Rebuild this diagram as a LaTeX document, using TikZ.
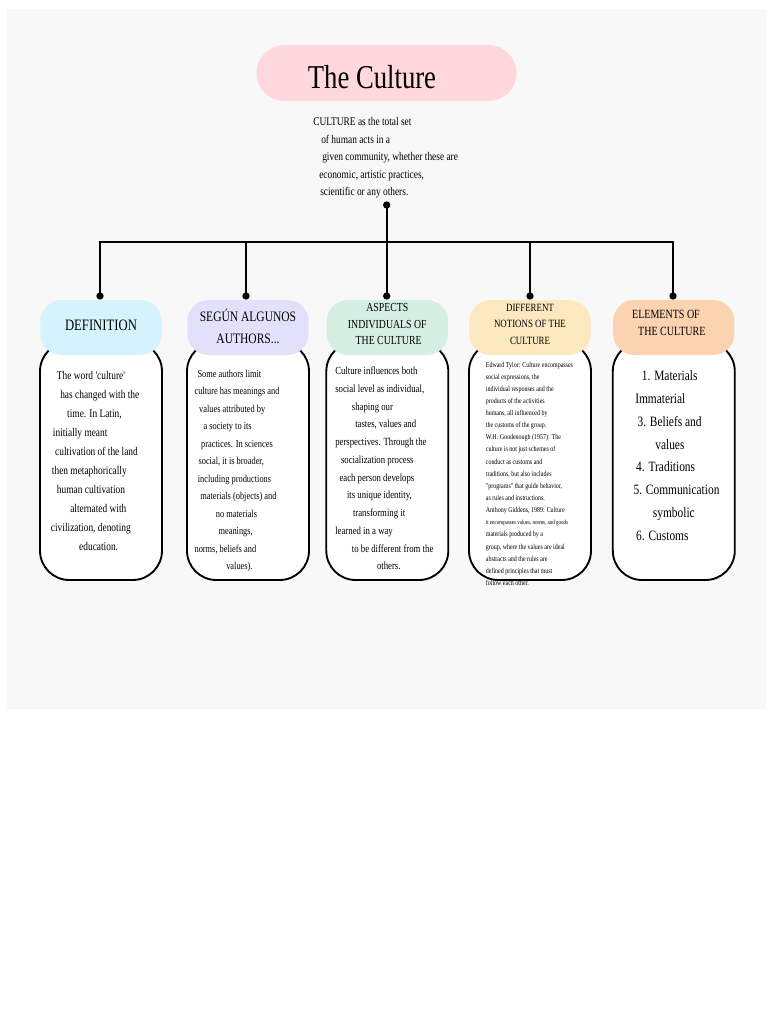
\documentclass[tikz,border=0pt]{standalone}
\usepackage{fontspec}
\setmainfont{Liberation Serif}[FakeStretch=0.8, Ligatures=TeXOff]
\definecolor{panelgray}{HTML}{F8F8F8}
\definecolor{titlepink}{HTML}{FED8DD}
\definecolor{hblue}{HTML}{D4F3FD}
\definecolor{hlav}{HTML}{E1E1FB}
\definecolor{hmint}{HTML}{D6EFE3}
\definecolor{hyel}{HTML}{FDE9C0}
\definecolor{hpeach}{HTML}{FCD3B1}
\tikzset{
  bodybox/.style={draw=black, line width=1.4pt, fill=white, rounded corners=22pt,
    minimum width=91.5pt, minimum height=178.5pt, inner sep=0pt},
  headbox/.style={draw=none, rounded corners=16pt, minimum width=91pt,
    minimum height=41.25pt, inner sep=0pt, align=center},
  bodytext/.style={anchor=north west, align=left, inner sep=0pt},
  link/.style={line width=1.5pt, draw=black},
  dotnode/.style={circle, fill=black, inner sep=0pt, minimum size=5.5pt},
}
\begin{document}
\begin{tikzpicture}[x=0.75pt, y=-0.75pt]
\useasboundingbox (0,0) rectangle (768,1024);
\fill[panelgray] (7,9) rectangle (766,709);

% title
\node[fill=titlepink, rounded corners=21pt, minimum width=195pt, minimum height=42pt, inner sep=0pt]
  (titlebox) at (386.5,73) {};
\node[inner sep=0pt, font=\fontsize{25}{30}\selectfont] (title) at (372,77) {The Culture};

% description
\node[bodytext, font=\fontsize{8.8}{13.1}\selectfont] (desc) at (313,117.5)
  {CULTURE as the total set\\
   \hspace*{6pt}of human acts in a\\
   \hspace*{6.75pt}given community, whether these are\\
   \hspace*{4.5pt}economic, artistic practices,\\
   \hspace*{5.25pt}scientific or any others.};

% body boxes
\node[bodybox] (b1) at (101,461) {};
\node[bodybox] (b2) at (248,461) {};
\node[bodybox] (b3) at (387.3,461) {};
\node[bodybox] (b4) at (530,461) {};
\node[bodybox] (b5) at (673.8,461) {};

% headers
\node[headbox, fill=hblue, font=\fontsize{11.9}{14}\selectfont] (h1) at (101,327.5) {DEFINITION\rule[-3pt]{0pt}{0pt}};
\node[headbox, fill=hlav, font=\fontsize{10.8}{16.3}\selectfont] (h2) at (248,327.5)
  {SEGÚN ALGUNOS\\AUTHORS...\rule[-2pt]{0pt}{0pt}};
\node[headbox, fill=hmint, font=\fontsize{9.2}{12.2}\selectfont] (h3) at (387.3,327.5)
  {ASPECTS\\INDIVIDUALS OF\\THE CULTURE\hspace*{-2pt}\rule[-5pt]{0pt}{0pt}};
\node[headbox, fill=hyel, font=\fontsize{8.3}{12.3}\selectfont] (h4) at (530,327.5)
  {DIFFERENT\\NOTIONS OF THE\\CULTURE\rule[-5pt]{0pt}{0pt}};
\node[headbox, fill=hpeach, font=\fontsize{9.4}{13.3}\selectfont, align=left] (h5) at (673.8,327.5)
  {ELEMENTS OF\\\hspace*{4.5pt}THE CULTURE\hspace*{7.5pt}\rule[-7pt]{0pt}{0pt}};

% body texts
\node[bodytext, font=\fontsize{8.8}{14.3}\selectfont] (t1) at (50.7,370.7)
  {\hspace*{4.5pt}The word 'culture'\\
   \hspace*{7pt}has changed with the\\
   \hspace*{12.2pt}time. In Latin,\\
   \hspace*{1.5pt}initially meant\\
   \hspace*{3.2pt}cultivation of the land\\
   \hspace*{0.75pt}then metaphorically\\
   \hspace*{4.5pt}human cultivation\\
   \hspace*{14.5pt}alternated with\\
   civilization, denoting\\
   \hspace*{21.2pt}education.};

\node[bodytext, font=\fontsize{7.85}{13.1}\selectfont] (t2) at (194.3,369.8)
  {\hspace*{2.25pt}Some authors limit\\
   culture has meanings and\\
   \hspace*{3.5pt}values attributed by\\
   \hspace*{6.75pt}a society to its\\
   \hspace*{5pt}practices. In sciences\\
   \hspace*{3pt}social, it is broader,\\
   \hspace*{2.5pt}including productions\\
   \hspace*{4.3pt}materials (objects) and\\
   \hspace*{16pt}no materials\\
   \hspace*{18pt}meanings,\\
   norms, beliefs and\\
   \hspace*{23.8pt}values).};

\node[bodytext, font=\fontsize{8.2}{13.3}\selectfont] (t3) at (335,366.7)
  {Culture influences both\\
   social level as individual,\\
   \hspace*{12.5pt}shaping our\\
   \hspace*{15pt}tastes, values and\\
   perspectives. Through the\\
   \hspace*{4.3pt}socialization process\\
   \hspace*{3.2pt}each person develops\\
   \hspace*{8.8pt}its unique identity,\\
   \hspace*{13.3pt}transforming it\\
   learned in a way\\
   \hspace*{12.5pt}to be different from the\\
   \hspace*{31.3pt}others.};

\node[bodytext, font=\fontsize{5.6}{9.1}\selectfont] (t4) at (485.6,361.6)
  {Edward Tylor: Culture encompasses\\
   social expressions, the\\
   individual responses and the\\
   products of the activities\\
   humans, all influenced by\\
   the customs of the group.\\
   W.H. Goodenough (1957): The\\
   culture is not just schemes of\\
   conduct as customs and\\
   traditions, but also includes\\
   "programs" that guide behavior,\\
   as rules and instructions.\\
   Anthony Giddens, 1989: Culture\\
   {\fontsize{4.7}{9.1}\selectfont it encompasses values, norms, and goods}\\
   materials produced by a\\
   group, where the values are ideal\\
   abstracts and the rules are\\
   defined principles that must\\
   follow each other.};

\node[bodytext, font=\fontsize{10.7}{17.1}\selectfont] (t5) at (633.3,370.6)
  {\hspace*{6.3pt}1. Materials\\
   \hspace*{1.3pt}Immaterial\\
   \hspace*{3pt}3. Beliefs and\\
   \hspace*{16.3pt}values\\
   \hspace*{2pt}4. Traditions\\
   5. Communication\\
   \hspace*{14.5pt}symbolic\\
   \hspace*{2pt}6. Customs};

% connectors
\node[dotnode] (top) at (386.7,205) {};
\node[dotnode] (d1) at (100,296) {};
\node[dotnode] (d2) at (246,296) {};
\node[dotnode] (d3) at (386.7,296) {};
\node[dotnode] (d4) at (530,296) {};
\node[dotnode] (d5) at (673,296) {};
\coordinate (hub) at (386.7,241.7);
\draw[link] (top.center) -- (hub);
\draw[link] (d1.center) |- (hub) -| (d5.center);
\draw[link] (d2.center) |- (hub);
\draw[link] (d3.center) -- (hub);
\draw[link] (d4.center) |- (hub);
\end{tikzpicture}
\end{document}
